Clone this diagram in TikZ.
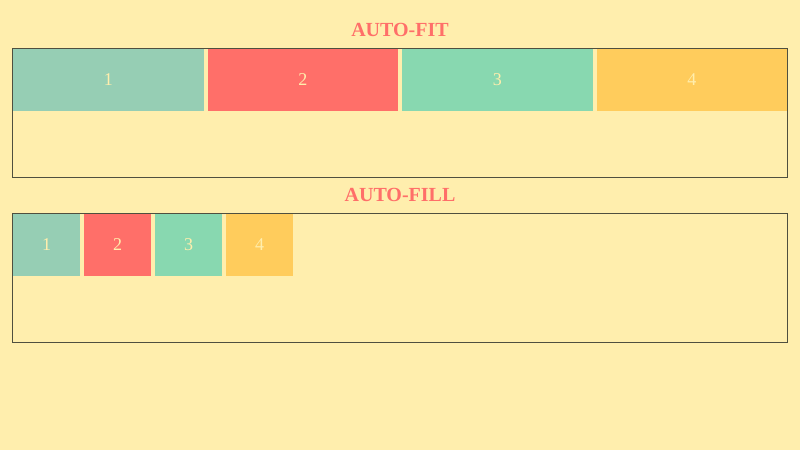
\documentclass[tikz,border=0pt]{standalone}
\usepackage{fontspec}
\setmainfont{Liberation Serif}
\usetikzlibrary{positioning}
\definecolor{paper}{HTML}{FFEEAD}
\definecolor{sage}{HTML}{96CEB4}
\definecolor{coral}{HTML}{FF6F69}
\definecolor{mint}{HTML}{88D8B0}
\definecolor{sun}{HTML}{FFCC5C}
\definecolor{frame}{HTML}{4F4F3F}
\newcommand*{\boxLeft}{12.5}
\newcommand*{\boxWidth}{775}
\newcommand*{\boxHeight}{129}
\newcommand*{\cellGap}{4}
\tikzset{
  gridbox/.style={% the outer grid container
    draw=frame,
    line width=1pt,
    minimum width=\boxWidth pt,
    minimum height=\boxHeight pt,
    inner sep=0pt,
    outer sep=0pt,
    anchor=north west
  },
  cell/.style={% one grid item
    inner sep=0pt,
    outer sep=0pt,
    text=paper,
    font=\fontsize{18}{18}\selectfont,
    anchor=north west
  },
  heading/.style={
    text=coral,
    font=\fontsize{20}{20}\selectfont\bfseries
  }
}

\begin{document}
\begin{tikzpicture}[x=1pt,y=-1pt]
    \fill [paper] (0,0) rectangle (800,450);
    \useasboundingbox (0,0) rectangle (800,450);

    % auto-fit
    \node [heading] (fitTitle) at (400,30) {AUTO-FIT};
    \node [gridbox] (fitGrid) at (\boxLeft,48.5) {};
    \foreach \i/\c in {1/sage,2/coral,3/mint,4/sun} {
        \node [cell, fill=\c, minimum width=190.5pt, minimum height=62pt]
            (fit\i) at ({13+(\i-1)*194.5},49) {\i};
    }

    % auto-fill
    \node [heading] (fillTitle) at (400,195) {AUTO-FILL};
    \node [gridbox] (fillGrid) at (\boxLeft,213.5) {};
    \foreach \i/\c in {1/sage,2/coral,3/mint,4/sun} {
        \node [cell, fill=\c, minimum width=67pt, minimum height=62pt]
            (fill\i) at ({13+(\i-1)*71},214) {\i};
    }
\end{tikzpicture}
\end{document}
